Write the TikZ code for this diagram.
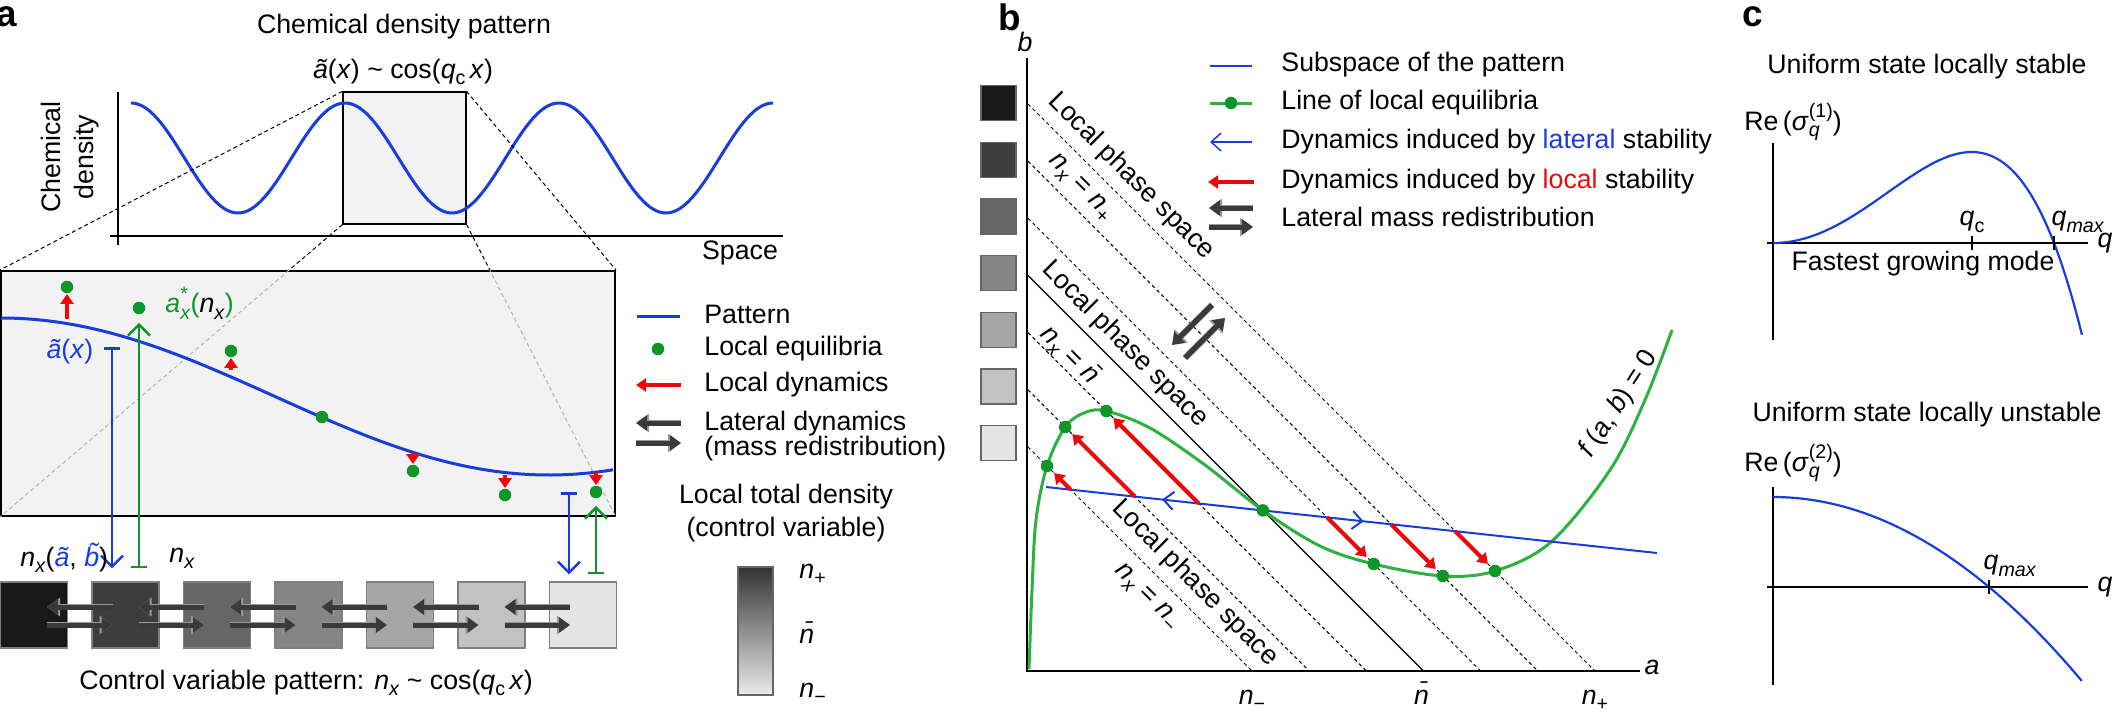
\documentclass[tikz,border=0pt]{standalone}
\usepackage{fontspec}
\setmainfont{Liberation Sans}
\usetikzlibrary{arrows.meta,calc,decorations.markings,positioning}

\definecolor{patblue}{RGB}{25,60,220}
\definecolor{eqgreen}{RGB}{15,150,40}
\definecolor{nullgreen}{RGB}{45,178,65}
\definecolor{dynred}{RGB}{235,10,10}
\definecolor{latgray}{RGB}{58,58,58}

\newcommand{\sbs}[1]{\raisebox{-0.45ex}{\fontsize{5.6}{6}\selectfont#1}}
\newcommand{\sps}[1]{\raisebox{0.9ex}{\fontsize{5.6}{6}\selectfont#1}}
\newcommand{\stk}[2]{{\setbox0=\hbox{\sps{#1}}\setbox2=\hbox{\sbs{#2}}\dimen0=\wd0 \ifdim\wd2>\dimen0 \dimen0=\wd2 \fi\rlap{\box0}\rlap{\box2}\hskip\dimen0}}

\begin{document}
\begin{tikzpicture}[x=0.1mm, y=-0.1mm, font=\fontsize{7.6}{9.4}\selectfont,
  axisline/.style={line width=0.2mm},
  patcurve/.style={patblue, line width=0.3mm},
  eqdot/.style={circle, fill=eqgreen, inner sep=0pt, minimum size=1.25mm},
  locarrow/.style={dynred, line width=0.4mm, -{Triangle[width=1.3mm,length=1mm]}},
  latarrow/.style={latgray, line width=0.5mm, -{Triangle[width=1.5mm,length=1.1mm]}},
  latedge/.style={preaction={draw=black!40, line width=0.66mm, -{Triangle[width=1.8mm,length=1.3mm]}}},
  cellbox/.style={draw=black!50, line width=0.12mm, inner sep=0pt, minimum width=6.7mm, minimum height=6.6mm},
  keybox/.style={draw=black!60, line width=0.12mm, inner sep=0pt, minimum size=3.5mm},
  persp/.style={line width=0.1mm, dash pattern=on 0.4mm off 0.3mm},
  nline/.style={line width=0.1mm, dash pattern=on 0.35mm off 0.3mm},
  bararrow/.style={line width=0.25mm, {Bar[width=1.6mm]}-{Straight Barb[length=1.1mm,width=2.2mm]}},
  panel/.style={font=\fontsize{10.5}{12}\selectfont\bfseries}
]
\useasboundingbox (0,0) rectangle (2114,712);

\node[panel] (la) at (7,17) {a};
\node[panel] (lb) at (1010,17) {b};
\node[panel] (lc) at (1753,17) {c};

\node (toptitle) at (404,27) {Chemical density pattern};
\node (formula) at (403,72) {\textit{ã}(\textit{x}) \textasciitilde{} cos(\textit{q}\sbs{c}\,\textit{x})};
\node[rotate=90, align=center] (ylab) at (70,157) {Chemical\\density};
\node (xlab) at (740,253) {Space};

\node[draw, line width=0.12mm, fill=black!5, minimum width=12.3mm, minimum height=13.2mm, inner sep=0pt] (zoomwin) at (404.5,158) {};
\draw[axisline] (118,92) -- (118,245);
\draw[axisline] (110,236) -- (783,236);
\draw[patcurve] plot[domain=131:773, samples=200] (\x, {158-55*cos((\x-131)*1.68224)});

\node[draw, line width=0.2mm, fill=black!5, minimum width=61.4mm, minimum height=24.5mm, inner sep=0pt] (closeup) at (308,393.5) {};

\draw[persp] (zoomwin.north west) -- (closeup.north west);
\draw[persp] (zoomwin.north east) -- (closeup.north east);
\begin{scope}
\clip (0,0) rectangle (2114,271);
\draw[persp] (zoomwin.south west) -- (closeup.south west);
\draw[persp] (zoomwin.south east) -- (closeup.south east);
\end{scope}
\begin{scope}
\clip (closeup.north west) rectangle (closeup.south east);
\draw[persp, black!30] (zoomwin.south west) -- (closeup.south west);
\draw[persp, black!30] (zoomwin.south east) -- (closeup.south east);
\end{scope}

\draw[patcurve] plot[domain=1:613, samples=120] (\x, {396.5-78.5*cos((\x-1)*0.328467)});

\foreach \i/\x/\y in {1/67/287, 2/139/308, 3/231/351, 4/322/417, 5/413/471, 6/505/495, 7/596/492}
  \node[eqdot] (e\i) at (\x,\y) {};

\draw[locarrow] ([yshift=-3.2mm]e1.center) -- (e1);
\draw[locarrow] ([yshift=-1.9mm]e3.center) -- (e3);
\draw[locarrow] ([yshift=1.8mm]e5.center) -- (e5);
\draw[locarrow] ([yshift=2mm]e6.center) -- (e6);
\draw[locarrow] ([yshift=2mm]e7.center) -- (e7);

\node[patblue] (atil) at (70,352) {\textit{ã}(\textit{x})};
\node[anchor=west] (astar) at (153,303) {\textcolor{eqgreen}{\textit{a}\stk{*}{\textit{x}}(}\textit{n}\sbs{\textit{x}}\textcolor{eqgreen}{)}};

\foreach \i/\g in {1/90,2/76,3/60,4/48,5/35,6/24,7/10}
  \node[cellbox, fill=black!\g] (c\i) at ({34+91.5*(\i-1)},615) {};

\foreach \i/\j in {1/2,2/3,3/4,4/5,5/6,6/7} {
  \draw[latarrow, latedge] ([xshift=-1.3mm, yshift=0.8mm]c\j.center) -- ([xshift=1.3mm, yshift=0.8mm]c\i.center);
  \draw[latarrow, latedge] ([xshift=1.3mm, yshift=-1mm]c\i.center) -- ([xshift=-1.3mm, yshift=-1mm]c\j.center);
}

\coordinate (ablue) at (112,347);
\coordinate (bblue) at (569,492);
\draw[bararrow, patblue, shorten >=1.3mm] (ablue) -- (ablue |- c2.north);
\draw[bararrow, eqgreen, shorten <=1.3mm, shorten >=0.8mm] (e2 |- c2.north) -- (e2);
\draw[bararrow, patblue, shorten >=0.7mm] (bblue) -- (bblue |- c7.north);
\draw[bararrow, eqgreen, shorten <=0.7mm, shorten >=0.7mm] (e7 |- c7.north) -- (e7);

\node[anchor=west] (nab) at (8,558) {\textit{n}\sbs{\textit{x}}(\textcolor{patblue}{\textit{ã}}, \textcolor{patblue}{\textit{\~{b}}})};
\node[anchor=west] (nx) at (157,558) {\textit{n}\sbs{\textit{x}}};
\node (ctrl) at (306,683) {Control variable pattern: \textit{n}\sbs{\textit{x}} \textasciitilde{} cos(\textit{q}\sbs{c}\,\textit{x})};

\draw[patcurve] (637,316) -- (680,316);
\node[anchor=west] (kpat) at (692,314) {Pattern};
\node[eqdot] (kdot) at (658,349) {};
\node[anchor=west] (keq) at (692,349) {Local equilibria};
\draw[locarrow] (681,385) -- (636,385);
\node[anchor=west] (kloc) at (692,385) {Local dynamics};
\draw[latarrow, latedge] (681,423) -- (636,423);
\draw[latarrow, latedge] (636,443) -- (681,443);
\node[anchor=west] (klat) at (692,424) {Lateral dynamics};
\node[anchor=west] (kmass) at (692,449) {(mass redistribution)};
\node (ktot) at (786,497) {Local total density};
\node (kctrl) at (786,530) {(control variable)};
\node[draw=black!60, line width=0.12mm, top color=black!80, bottom color=black!8, minimum width=3.5mm, minimum height=12.8mm, inner sep=0pt] (gradbar) at (755.5,631) {};
\node[anchor=west] (kplus) at (787,574) {\textit{n}\sbs{+}};
\node[anchor=west] (kbar) at (787,633) {\textit{\={n}}};
\node[anchor=west] (kminus) at (787,693) {\textit{n}\sbs{−}};

\foreach \k/\g in {0/90,1/76,2/60,3/48,4/35,5/24,6/10}
  \node[keybox, fill=black!\g] (g\k) at (998.5,{103+56.7*\k}) {};

\draw[axisline] (1027,58) -- (1027,671) -- (1640,671);
\node (bax) at (1025,42) {\textit{b}};
\node (aax) at (1652,667) {\textit{a}};

\foreach \j/\n in {0/224,1/281.2,2/338.3,3/395.5,4/452.7,5/509.8,6/567} {
  \coordinate (s\j) at (1028,{671-\n});
  \coordinate (e\j) at ({1028+\n},671);
}
\foreach \j in {1,2,4,5}
  \draw[nline] (s\j) -- (e\j);
\draw[nline] (s6) -- (e6) node[pos=0.155, sloped, above=-0.3mm] {Local phase space}
  node[pos=0.12, sloped, below] {\textit{n}\sbs{\textit{x}} = \textit{n}\sbs{+}};
\draw[line width=0.12mm] (s3) -- (e3) node[pos=0.21, sloped, above=-0.5mm] {Local phase space}
  node[pos=0.157, sloped, below] {\textit{n}\sbs{\textit{x}} = \textit{\={n}}};
\draw[nline] (s0) -- (e0) node[pos=0.677, sloped, above=-0.3mm] {Local phase space}
  node[pos=0.601, sloped, below] {\textit{n}\sbs{\textit{x}} = \textit{n}\sbs{−}};

\node[anchor=base] (tminus) at ([yshift=-3.3mm]e0) {\textit{n}\sbs{−}};
\node[anchor=base] (tbar) at ([yshift=-3.3mm]e3) {\textit{\={n}}};
\node[anchor=base] (tplus) at ([yshift=-3.3mm]e6) {\textit{n}\sbs{+}};

\foreach \j/\x/\y in {0/1047/466, 1/1065.2/427, 2/1106.3/411, 3/1262.9/510.4, 4/1373.7/564, 5/1442.8/576, 6/1495/571}
  \coordinate (p\j) at (\x,\y);
\foreach \j/\x/\y in {0/1070.7/489.7, 1/1134.8/496.6, 2/1198.8/503.5, 4/1327.1/517.3, 5/1391.1/524.3, 6/1455.2/531.2}
  \coordinate (t\j) at (\x,\y);

\draw[nullgreen, line width=0.3mm] plot[smooth, tension=0.55] coordinates {(1029,669) (1032,590) (1036,520) (p0) (p1) (1085,412.5) (p2) (1150,428) (1205,465) (p3) (1320,546) (p4) (p5) (p6) (1551,542) (1610,470) (1645,400) (1672,330)};
\node[rotate=57] (fab) at (1619,404) {\textit{f}\,(\textit{a}, \textit{b}) = 0};

\coordinate (bl0) at (1046,487);
\coordinate (bl1) at (1657,553);
\draw[patblue, line width=0.2mm, postaction={decorate}, decoration={markings,
  mark=at position 0.19 with {\arrowreversed{Straight Barb[length=1mm,width=1.8mm]}},
  mark=at position 0.52 with {\arrow{Straight Barb[length=1mm,width=1.8mm]}}}] (bl0) -- (bl1);

\foreach \j in {0,...,6}
  \node[eqdot] (d\j) at (p\j) {};
\foreach \j in {0,1,2,4,5,6}
  \draw[locarrow, shorten >=0.3mm] (t\j) -- (d\j);

\draw[latarrow, latedge] (1212,305) -- (1172,345);
\draw[latarrow, latedge] (1185,358) -- (1225,318);

\draw[patblue, line width=0.2mm] (1210,66) -- (1252,66);
\node[anchor=west] (ksub) at (1269,65) {Subspace of the pattern};
\draw[nullgreen, line width=0.3mm] (1210,103) -- (1252,103);
\node[eqdot] (kline) at (1231,103) {};
\node[anchor=west] (kleq) at (1269,103) {Line of local equilibria};
\draw[patblue, line width=0.15mm, -{Straight Barb[length=1mm,width=1.8mm]}] (1252,142) -- (1210,142);
\node[anchor=west] (klatst) at (1269,142) {Dynamics induced by \textcolor{patblue}{lateral} stability};
\draw[locarrow] (1254,182) -- (1208,182);
\node[anchor=west] (klocst) at (1269,182) {Dynamics induced by \textcolor{dynred}{local} stability};
\draw[latarrow, latedge] (1253,208) -- (1209,208);
\draw[latarrow, latedge] (1209,227) -- (1253,227);
\node[anchor=west] (kmassb) at (1269,217) {Lateral mass redistribution};

\node (ctitle1) at (1927,67) {Uniform state locally stable};
\node (cre1) at (1793,122) {Re\,(\textit{σ}\stk{(1)}{\textit{q}})};
\draw[axisline] (1773,143) -- (1773,340);
\draw[axisline] (1767,243) -- (2088,243);
\node (cq1) at (2105,243) {\textit{q}};
\draw[patblue, line width=0.22mm] plot[domain=0:1.1, samples=80] ({1773+281*\x}, {243-364*\x*\x*(1-\x*\x)});
\draw[axisline] (1972,236) -- (1972,250);
\draw[axisline] (2054,236) -- (2054,250);
\node (cqc) at (1972,222) {\textit{q}\sbs{c}};
\node (cqm1) at (2078,222) {\textit{q}\sbs{\textit{max}}};
\node (cfast) at (1923,264) {Fastest growing mode};

\node (ctitle2) at (1927,415) {Uniform state locally unstable};
\node (cre2) at (1793,463) {Re\,(\textit{σ}\stk{(2)}{\textit{q}})};
\draw[axisline] (1773,487) -- (1773,685);
\draw[axisline] (1767,587) -- (2088,587);
\node (cq2) at (2105,587) {\textit{q}};
\draw[patblue, line width=0.22mm] plot[domain=0:1.43, samples=60] ({1773+216*\x}, {587-90*(1-\x*\x)});
\draw[axisline] (1989,580) -- (1989,594);
\node (cqm2) at (2010,566) {\textit{q}\sbs{\textit{max}}};
\end{tikzpicture}
\end{document}
